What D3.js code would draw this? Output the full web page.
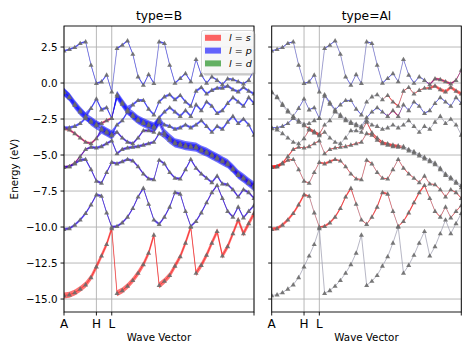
<!DOCTYPE html>
<html><head><meta charset="utf-8">
<script src="https://cdn.jsdelivr.net/npm/d3@7"></script>
<style>body{margin:0;background:#fff}svg{display:block}text{font-family:"DejaVu Sans",sans-serif;fill:#000}</style>
</head><body><svg id="c" width="474" height="355"></svg>
<script>
// ---------------- data ----------------
const kDist = [0,1.025,2.05,3.075,4.1,5.125,6.15,7.12,8.09,9.06,
  10.06,11.06,12.06,13.06,14.06,15.06,16.06,17.06,
  18.06,19.06,20.06,21.06,22.06,23.06,24.06,
  25.06,26.06,27.06,28.06,29.06,
  30.06,31.06,32.06,33.06,
  34.06,35.06,36.06];
const kTickPos = [0, 6.15, 9.06, 36.06];
const kTickLabels = ["A", "H", "L", ""];
const yTicks = [2.5, 0, -2.5, -5, -7.5, -10, -12.5, -15];
const panelTitles = ["type=B", "type=Al"];
const legendLabels = ["s", "p", "d"];

const band1 = [-14.75,-14.7,-14.55,-14.3,-14.0,-13.5,-12.75,-12.0,-11.2,-10.1, -14.6,-14.4,-14.1,-13.7,-13.2,-12.6,-11.8,-10.55, -14.05,-13.75,-13.35,-12.7,-12.05,-11.1,-10.0, -13.2,-12.65,-11.95,-11.1,-10.3, -12.0,-11.35,-10.45,-9.5, -10.45,-9.75,-9.05];
const band2 = [-10.15,-10.1,-9.85,-9.5,-9.05,-8.45,-7.75,-7.85,-9.0,-10.0, -9.95,-9.7,-9.3,-8.7,-7.9,-7.3,-8.4,-9.5, -9.8,-9.3,-8.6,-7.6,-7.7,-8.9,-9.95, -9.6,-9.0,-8.3,-7.6,-7.1, -8.0,-8.9,-9.3,-8.6, -9.35,-8.9,-8.5];
const band3 = [-5.85,-5.8,-5.6,-5.35,-5.3,-6.0,-6.8,-6.95,-6.2,-5.5, -5.6,-5.45,-5.3,-5.4,-5.8,-6.3,-6.65,-6.7, -5.35,-5.6,-6.2,-6.6,-6.65,-6.0,-5.3, -5.9,-6.3,-6.6,-6.9,-6.45, -7.0,-7.05,-7.4,-7.9, -7.4,-7.6,-8.0];
const band4 = [-5.85,-5.8,-5.55,-5.1,-4.6,-4.45,-4.5,-4.4,-4.2,-4.0, -4.9,-4.6,-4.5,-4.45,-4.4,-4.3,-4.2,-4.1, -3.5,-3.6,-3.95,-4.2,-4.3,-4.4,-4.45, -4.5,-4.7,-4.85,-5.05,-5.25, -5.45,-5.65,-6.0,-6.4, -6.65,-6.95,-7.25];
const band5 = [-3.15,-3.25,-3.5,-3.8,-4.1,-4.2,-3.85,-3.25,-3.45,-3.65, -3.4,-3.8,-4.1,-4.2,-3.8,-3.3,-3.3,-3.4, -2.7,-3.45,-3.8,-4.1,-4.2,-4.3,-4.35, -4.4,-4.6,-4.75,-4.95,-5.15, -5.35,-5.55,-5.9,-6.3, -6.55,-6.85,-7.1];
const band6 = [-3.1,-3.1,-3.0,-2.8,-2.45,-2.7,-2.95,-3.15,-3.35,-3.55, -2.9,-2.6,-2.0,-2.3,-2.6,-2.8,-2.95,-3.1, -2.6,-2.9,-3.0,-3.2,-3.1,-2.9,-3.1, -2.9,-2.6,-3.0,-3.4,-3.0, -3.2,-2.7,-2.3,-2.8, -2.5,-2.9,-3.6];
const band7 = [-0.65,-1.0,-1.55,-2.0,-2.35,-2.6,-2.85,-2.8,-2.6,-2.45, -0.9,-1.45,-1.95,-2.2,-2.5,-2.7,-2.85,-3.0, -2.4,-2.0,-1.7,-2.0,-2.3,-1.9,-2.3, -1.5,-1.9,-1.3,-1.6,-2.1, -1.9,-1.4,-1.0,-1.3, -1.6,-1.0,-1.4];
const band8 = [-0.6,-0.95,-1.45,-1.9,-2.3,-1.75,-1.1,-1.85,-1.7,-2.45, -0.8,-1.35,-1.85,-1.5,-1.2,-1.2,-1.8,-2.2, -1.3,-0.95,-0.8,-1.15,-0.85,-1.3,-1.6, -0.55,-0.3,-0.75,-0.5,-0.35, -0.35,-0.2,-0.45,-0.6, -0.3,-0.55,-0.75];
const band9 = [2.24,2.34,2.48,2.76,2.87,1.25,-0.02,0.09,0.56,-0.6, 2.41,2.64,2.94,2.01,0.44,-0.14,0.6,-0.02, 2.87,2.76,1.25,0.0,0.33,0.67,0.1, 1.65,0.56,0.0,0.44,0.2, -0.1,0.3,0.25,0.1, -0.05,0.2,0.9];
const bands = [band1, band2, band3, band4, band5, band6, band7, band8, band9];

// projection weights (tenths), one row per band
const B_s = [
 [7,7,7,7,7,7,7,7,7,7, 7,7,7,7,7,7,7,7, 7,7,7,7,7,7,7, 7,7,7,7,7, 7,7,7,7, 7,7,7],
 [1,1,1,1,1,1,1,1,1,1, 1,1,1,1,1,1,1,1, 1,1,1,1,1,1,1, 1,1,1,1,1, 1,1,1,1, 1,1,1],
 [1,1,1,1,1,1,1,1,1,1, 1,1,1,1,1,1,1,1, 1,1,1,1,1,1,1, 1,1,1,1,1, 1,1,1,1, 1,1,1],
 [3,3,3,2,2,1,1,1,1,1, 1,1,1,1,1,1,1,1, 1,1,1,1,1,1,1, 1,1,1,1,1, 2,2,2,2, 2,2,2],
 [3,3,3,3,3,3,3,1,1,1, 1,1,1,1,1,1,1,1, 1,1,1,1,1,1,1, 1,1,1,1,1, 2,2,2,2, 2,2,2],
 [0,0,0,0,0,0,0,0,0,0, 0,0,0,0,0,0,0,0, 0,0,0,0,0,0,0, 0,0,0,0,0, 0,0,0,0, 0,0,0],
 [0,0,0,0,0,0,0,3,3,3, 0,0,0,0,0,0,0,0, 0,0,0,0,0,0,0, 0,0,0,0,0, 0,0,0,0, 0,0,0],
 [0,0,0,0,0,0,0,0,0,0, 0,0,0,0,0,0,0,0, 0,0,0,0,0,0,0, 0,0,0,0,0, 0,0,0,0, 0,0,0],
 [0,0,0,0,0,0,0,0,0,0, 0,0,0,0,0,0,0,0, 0,0,0,0,0,0,0, 0,0,0,0,0, 0,0,0,0, 0,0,0]];
const B_p = [
 [0,0,0,0,0,0,0,0,0,0, 0,0,0,0,0,0,0,0, 0,0,0,0,0,0,0, 0,0,0,0,0, 0,0,0,0, 0,0,0],
 [3,3,3,3,3,3,3,3,3,3, 3,3,3,3,3,3,3,3, 3,3,3,3,3,3,3, 3,3,3,3,3, 3,3,3,3, 3,3,3],
 [3,3,3,3,3,3,3,3,3,3, 3,3,3,3,3,3,3,3, 3,3,3,3,3,3,3, 3,3,3,3,3, 3,3,3,3, 3,3,3],
 [1,1,1,2,2,3,3,3,3,3, 3,3,3,3,3,3,3,3, 3,9,9,9,9,9,9, 9,9,9,9,9, 9,9,9,9, 9,9,9],
 [1,1,1,1,1,1,1,9,9,9, 3,3,3,3,3,3,3,3, 9,9,9,9,9,9,9, 9,9,9,9,9, 9,9,9,9, 9,9,9],
 [3,3,3,3,3,9,9,9,9,9, 3,3,3,9,9,9,9,9, 9,3,3,3,3,3,3, 3,3,3,3,3, 3,3,3,3, 3,3,3],
 [9,9,9,9,9,9,9,1,1,1, 9,9,9,9,9,9,9,9, 3,3,3,3,3,3,3, 3,3,3,3,3, 3,3,3,3, 3,3,3],
 [9,9,9,9,9,3,3,3,3,3, 9,9,9,3,3,3,3,3, 3,3,3,3,3,3,3, 3,3,3,3,3, 3,3,3,3, 3,3,3],
 [2,2,2,2,2,2,2,2,2,2, 2,2,2,2,2,2,2,2, 2,2,2,2,2,2,2, 2,2,2,2,2, 2,2,2,2, 2,2,2]];
const Al_s = [
 [0,0,0,0,0,0,0,0,0,0, 0,0,0,0,0,0,0,0, 0,0,0,0,0,0,0, 0,0,0,0,0, 0,0,0,0, 0,0,0],
 [4,4,4,4,4,4,4,1,1,1, 3,3,3,3,3,3,1,1, 1,2,3,3,2,1,1, 2,3,3,3,3, 1,1,1,1, 1,1,1],
 [4,4,3,2,1,1,1,1,1,1, 3,3,2,1,1,1,1,1, 2,1,1,1,1,1,1, 1,1,1,1,1, 1,1,1,1, 1,1,1],
 [4,4,3,2,2,1,1,1,1,1, 1,1,1,1,1,1,1,1, 1,2,2,2,2,2,2, 0,0,0,0,0, 0,0,0,0, 0,0,0],
 [0,0,0,0,0,0,0,2,2,2, 0,0,0,0,0,0,0,0, 2,2,2,2,2,2,2, 0,0,0,0,0, 0,0,0,0, 0,0,0],
 [0,0,0,0,0,0,0,2,2,2, 0,0,0,0,0,0,0,0, 0,0,0,0,0,0,0, 0,0,0,0,0, 0,0,0,0, 0,0,0],
 [0,0,0,0,0,0,0,0,0,0, 0,0,0,0,0,0,0,0, 0,0,0,0,1,2,2, 0,0,0,0,0, 0,0,0,0, 0,0,0],
 [0,0,0,0,0,0,0,0,0,0, 0,0,0,0,0,0,0,0, 0,0,0,0,1,2,2, 1,1,1,1,1, 3,3,4,4, 4,4,4],
 [0,0,0,0,0,0,0,0,0,0, 0,0,0,0,0,0,0,0, 0,0,0,0,0,0,0, 0,0,0,0,0, 2,3,3,3, 3,2,1]];
const Al_p = [
 [0,0,0,0,0,0,0,0,0,0, 0,0,0,0,0,0,0,0, 0,0,0,0,0,0,0, 0,0,0,0,0, 0,0,0,0, 0,0,0],
 [0,0,0,0,0,0,0,0,0,0, 0,0,0,0,0,0,0,0, 0,0,0,0,0,0,0, 0,0,0,0,0, 0,0,0,0, 0,0,0],
 [0,0,0,0,0,0,0,0,0,0, 0,0,0,0,0,0,0,0, 0,0,0,0,0,0,0, 0,0,0,0,0, 0,0,0,0, 0,0,0],
 [0,0,0,0,0,0,0,0,0,0, 0,0,0,0,0,0,0,0, 0,0,0,0,0,0,0, 0,0,0,0,0, 0,0,0,0, 0,0,0],
 [0,0,0,0,0,0,0,0,0,0, 0,0,0,0,0,0,0,0, 0,0,0,0,0,0,0, 0,0,0,0,0, 0,0,0,0, 0,0,0],
 [1,1,1,1,1,0,0,0,0,0, 0,0,0,0,0,0,0,0, 0,0,0,0,0,0,0, 0,0,0,0,0, 0,0,0,0, 0,0,0],
 [0,0,0,0,0,0,0,0,0,0, 0,0,0,0,0,0,0,0, 1,1,1,1,1,1,1, 1,1,1,1,1, 1,1,1,1, 1,1,1],
 [0,0,0,0,0,1,1,1,1,1, 1,1,1,1,1,1,1,1, 0,0,0,0,0,0,0, 0,0,0,0,0, 0,0,0,0, 0,0,0],
 [1,1,1,1,1,1,1,1,1,1, 1,1,1,1,1,1,1,1, 1,1,1,1,1,1,1, 1,1,1,1,1, 1,1,1,1, 1,1,1]];

// ---------------- drawing ----------------
const svg = d3.select("#c");
const TOP = 26, BOT = 312;
const y = d3.scaleLinear().domain([-15.9, 3.96]).range([BOT, TOP]);
const HW = 0.03; // eV half-thickness per tenth of weight
const panels = [
  {x0: 64, x1: 254, title: panelTitles[0], s: B_s, p: B_p, showY: true},
  {x0: 271.7, x1: 461.3, title: panelTitles[1], s: Al_s, p: Al_p, showY: false}
];
const fmt = v => (v < 0 ? "\u2212" : "") + Math.abs(v).toFixed(1);
const lineColor = (s, p) => {
  const t = Math.min(1, Math.max(s, p) * 0.25);
  const target = s > p ? "#e05858" : "#5858e0";
  return d3.interpolateRgb("#9a9aae", target)(t);
};

panels.forEach((P, pi) => {
  const x = d3.scaleLinear().domain([0, kDist[kDist.length - 1]]).range([P.x0, P.x1]);
  const g = svg.append("g");
  const cid = "clip" + pi;
  svg.append("clipPath").attr("id", cid).append("rect")
    .attr("x", P.x0).attr("y", TOP).attr("width", P.x1 - P.x0).attr("height", BOT - TOP);

  // grid
  g.selectAll("line.hg").data(yTicks).join("line").attr("class", "hg")
    .attr("x1", P.x0).attr("x2", P.x1).attr("y1", d => y(d)).attr("y2", d => y(d))
    .attr("stroke", "#b0b0b0").attr("stroke-width", 0.9);
  g.selectAll("line.vg").data(kTickPos).join("line").attr("class", "vg")
    .attr("x1", d => x(d)).attr("x2", d => x(d)).attr("y1", TOP).attr("y2", BOT)
    .attr("stroke", "#b0b0b0").attr("stroke-width", 0.9);

  const plot = g.append("g").attr("clip-path", `url(#${cid})`);

  // thin band lines
  bands.forEach((E, b) => {
    for (let i = 0; i < E.length - 1; i++) {
      const s = (P.s[b][i] + P.s[b][i + 1]) / 2, p = (P.p[b][i] + P.p[b][i + 1]) / 2;
      plot.append("line")
        .attr("x1", x(kDist[i])).attr("y1", y(E[i]))
        .attr("x2", x(kDist[i + 1])).attr("y2", y(E[i + 1]))
        .attr("stroke", lineColor(s, p)).attr("stroke-width", 0.9).attr("stroke-opacity", 0.8);
    }
  });
  // fat bands: s (red), p (blue)
  [["s", "#ff0000"], ["p", "#0000ff"]].forEach(([orb, col]) => {
    bands.forEach((E, b) => {
      const W = P[orb][b];
      const area = d3.area()
        .x((d, i) => x(kDist[i]))
        .y0((d, i) => y(E[i] - W[i] * HW))
        .y1((d, i) => y(E[i] + W[i] * HW));
      plot.append("path").datum(E).attr("d", area)
        .attr("fill", col).attr("fill-opacity", 0.55);
    });
  });
  // markers
  const tri = d3.symbol().type(d3.symbolTriangle).size(11);
  bands.forEach((E) => {
    plot.selectAll(null).data(E).join("path")
      .attr("d", tri)
      .attr("transform", (d, i) => `translate(${x(kDist[i])},${y(d) + 0.3})`)
      .attr("fill", "#6a6a6a").attr("fill-opacity", 0.9);
  });

  // frame
  g.append("rect").attr("x", P.x0).attr("y", TOP).attr("width", P.x1 - P.x0).attr("height", BOT - TOP)
    .attr("fill", "none").attr("stroke", "#000").attr("stroke-width", 0.9);

  // y ticks
  yTicks.forEach(v => {
    g.append("line").attr("x1", P.x0 - 3.5).attr("x2", P.x0).attr("y1", y(v)).attr("y2", y(v))
      .attr("stroke", "#000").attr("stroke-width", 0.9);
    if (P.showY) {
      g.append("text").attr("x", P.x0 - 6.5).attr("y", y(v)).attr("dy", "0.35em")
        .attr("text-anchor", "end").attr("font-size", 10.3).text(fmt(v));
    }
  });
  // x ticks
  kTickPos.forEach((v, i) => {
    g.append("line").attr("x1", x(v)).attr("x2", x(v)).attr("y1", BOT).attr("y2", BOT + 3.5)
      .attr("stroke", "#000").attr("stroke-width", 0.9);
    g.append("text").attr("x", x(v)).attr("y", BOT + 15.5).attr("text-anchor", "middle")
      .attr("font-size", 12).text(kTickLabels[i]);
  });
  g.append("text").attr("x", (P.x0 + P.x1) / 2).attr("y", 341).attr("text-anchor", "middle")
    .attr("font-size", 10.3).text("Wave Vector");
  g.append("text").attr("x", (P.x0 + P.x1) / 2).attr("y", 20).attr("text-anchor", "middle")
    .attr("font-size", 12.3).text(P.title);
});

svg.append("text").attr("transform", "translate(14,169) rotate(-90)").attr("text-anchor", "middle")
  .attr("dy", "0.35em").attr("font-size", 10.3).text("Energy (eV)");

// legend
const lg = svg.append("g");
lg.append("rect").attr("x", 203.5).attr("y", 32.5).attr("width", 52).attr("height", 43).attr("rx", 2)
  .attr("fill", "#888").attr("fill-opacity", 0.45);
lg.append("rect").attr("x", 201.5).attr("y", 30.5).attr("width", 52).attr("height", 43).attr("rx", 2)
  .attr("fill", "#fff").attr("fill-opacity", 0.85).attr("stroke", "#cccccc").attr("stroke-width", 0.8);
const legCols = ["#ff0000", "#0000ff", "#008000"];
legendLabels.forEach((lab, i) => {
  const cy = 37.8 + i * 12.8;
  lg.append("rect").attr("x", 205).attr("y", cy - 3).attr("width", 16).attr("height", 6)
    .attr("fill", legCols[i]).attr("fill-opacity", 0.6);
  const t = lg.append("text").attr("x", 229).attr("y", cy).attr("dy", "0.35em").attr("font-size", 9.5);
  t.append("tspan").attr("font-style", "italic").text("l");
  t.append("tspan").text(" = ");
  t.append("tspan").attr("font-style", "italic").text(lab);
});
</script></body></html>
